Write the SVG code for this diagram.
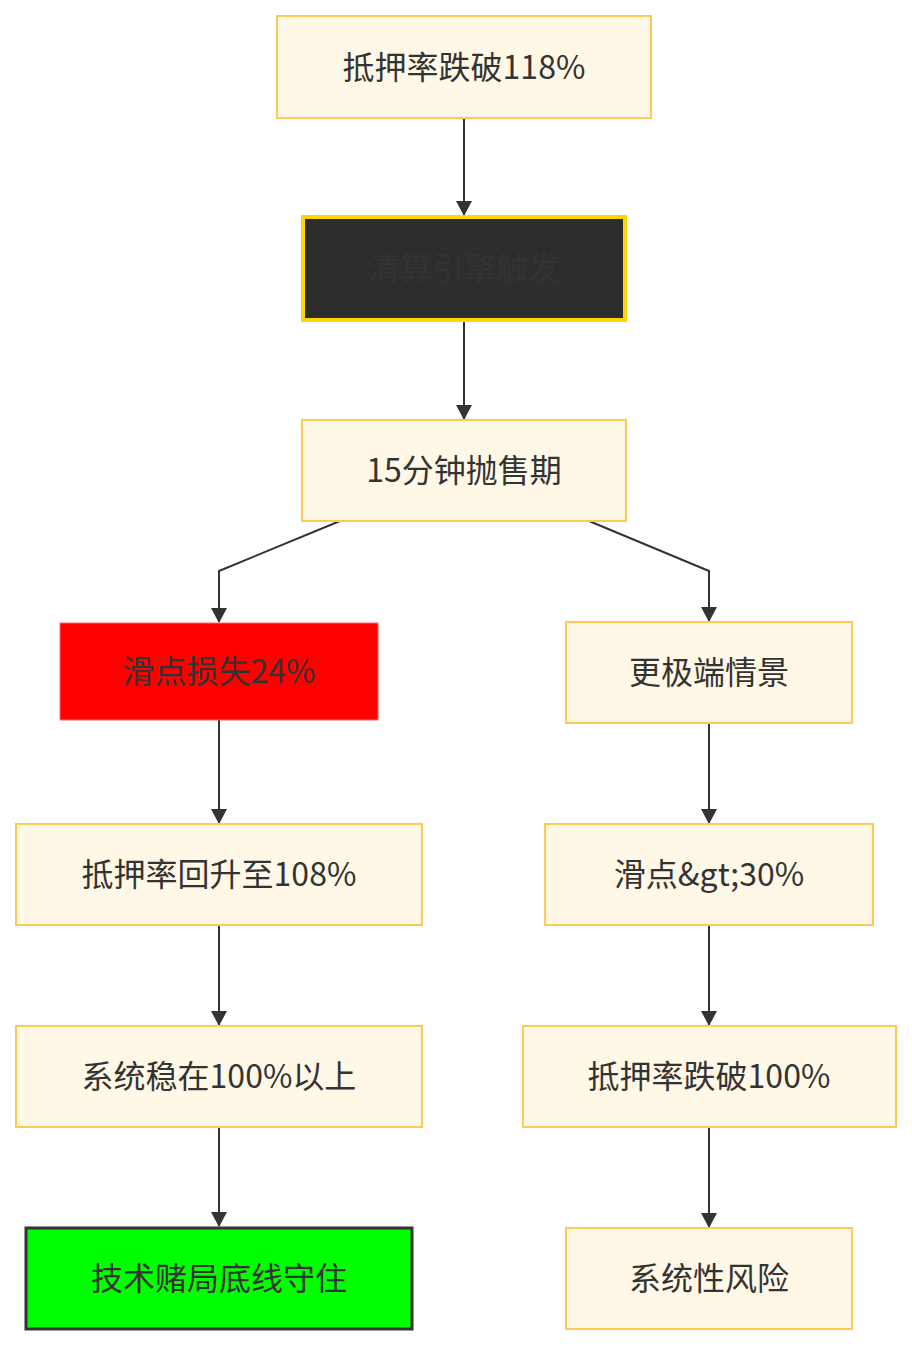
<svg xmlns="http://www.w3.org/2000/svg" width="912" height="1346" viewBox="0 0 912 1346">
<style>
.n{fill:#fff8e6;stroke:#fdcb55;stroke-width:2}
.t{font-family:"Noto Sans CJK SC","Noto Sans",sans-serif;font-size:32px;fill:#333333;text-anchor:middle;dominant-baseline:central}
.e{fill:none;stroke:#333333;stroke-width:2}
</style>
<defs>
<marker id="a" viewBox="0 0 15 16" refX="14" refY="8" markerWidth="15" markerHeight="16" markerUnits="userSpaceOnUse" orient="auto">
<path d="M0,0 L15,8 L0,16 z" fill="#333333"/>
</marker>
</defs>
<rect width="912" height="1346" fill="#ffffff"/>
<g id="edges">
<path class="e" d="M464,118 V215" marker-end="url(#a)"/>
<path class="e" d="M464,321 V419" marker-end="url(#a)"/>
<path class="e" d="M340,521 L219,571 V622" marker-end="url(#a)"/>
<path class="e" d="M589,521 L709,571 V621" marker-end="url(#a)"/>
<path class="e" d="M219,720 V823" marker-end="url(#a)"/>
<path class="e" d="M709,723 V823" marker-end="url(#a)"/>
<path class="e" d="M219,925 V1025" marker-end="url(#a)"/>
<path class="e" d="M709,925 V1025" marker-end="url(#a)"/>
<path class="e" d="M219,1127 V1226" marker-end="url(#a)"/>
<path class="e" d="M709,1127 V1227" marker-end="url(#a)"/>
</g>
<g id="n1"><rect class="n" x="277" y="16" width="374" height="102"/><text class="t" x="464" y="65">抵押率跌破118%</text></g>
<g id="n2"><rect x="303" y="217" width="322" height="103" fill="#2d2d2d" stroke="#ffd700" stroke-width="4"/><text class="t" x="464" y="266">清算引擎触发</text></g>
<g id="n3"><rect class="n" x="302" y="420" width="324" height="101"/><text class="t" x="464" y="468">15分钟抛售期</text></g>
<g id="n4"><rect x="60" y="623" width="318" height="97" fill="#ff0000" stroke="#ff6b6b" stroke-width="1"/><text class="t" x="219" y="669">滑点损失24%</text></g>
<g id="n5"><rect class="n" x="566" y="622" width="286" height="101"/><text class="t" x="709" y="670">更极端情景</text></g>
<g id="n6"><rect class="n" x="16" y="824" width="406" height="101"/><text class="t" x="219" y="872">抵押率回升至108%</text></g>
<g id="n7"><rect class="n" x="545" y="824" width="328" height="101"/><text class="t" x="709" y="872">滑点&amp;gt;30%</text></g>
<g id="n8"><rect class="n" x="16" y="1026" width="406" height="101"/><text class="t" x="219" y="1074">系统稳在100%以上</text></g>
<g id="n9"><rect class="n" x="523" y="1026" width="373" height="101"/><text class="t" x="709" y="1074">抵押率跌破100%</text></g>
<g id="n10"><rect x="26" y="1228" width="386" height="101" fill="#00ff00" stroke="#333333" stroke-width="3"/><text class="t" x="219" y="1276">技术赌局底线守住</text></g>
<g id="n11"><rect class="n" x="566" y="1228" width="286" height="101"/><text class="t" x="709" y="1276">系统性风险</text></g>
</svg>
